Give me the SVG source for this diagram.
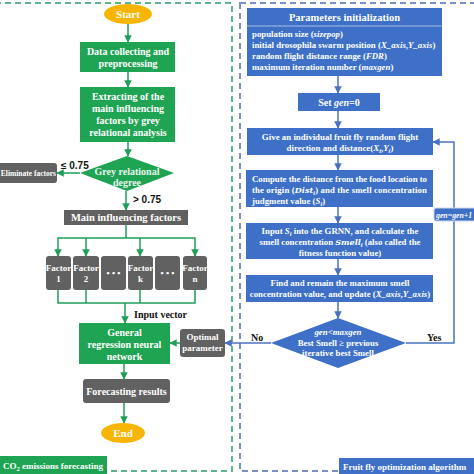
<svg xmlns="http://www.w3.org/2000/svg" width="474" height="474" viewBox="0 0 474 474" font-size="10">
<defs>
<style>
.t{font-family:"Liberation Serif","Times New Roman",serif;font-weight:bold;fill:#fff}
.k{font-family:"Liberation Serif","Times New Roman",serif;font-weight:bold;fill:#111}
.s{font-family:"Liberation Sans",Arial,sans-serif;font-weight:bold;fill:#111}
.g{fill:#1fa454}
.b{fill:#3d70c6}
.d{fill:#616161}
.o{fill:#f7b500}
.gl{stroke:#1f9e5a;stroke-width:1.5;fill:none}
.bl{stroke:#4a72c0;stroke-width:1.5;fill:none}
.i{font-style:italic}
</style>
<marker id="ag" viewBox="0 0 10 10" refX="9" refY="5" markerWidth="5" markerHeight="5" orient="auto"><path d="M0,0L10,5L0,10z" fill="#1f9e5a"/></marker>
<marker id="ab" viewBox="0 0 10 10" refX="9" refY="5" markerWidth="5" markerHeight="5" orient="auto"><path d="M0,0L10,5L0,10z" fill="#4a72c0"/></marker>
</defs>
<rect width="474" height="474" fill="#fff"/>
<rect x="-5" y="3" width="237" height="468" fill="none" stroke="#5db592" stroke-width="2" stroke-dasharray="6,4"/>
<rect x="240" y="3" width="240" height="468" fill="none" stroke="#7a90c4" stroke-width="2" stroke-dasharray="6,4"/>

<g id="connectors">
<line class="gl" x1="128" y1="24" x2="128" y2="42" marker-end="url(#ag)"/>
<line class="gl" x1="128" y1="72" x2="128" y2="87" marker-end="url(#ag)"/>
<line class="gl" x1="128" y1="142" x2="128" y2="156" marker-end="url(#ag)"/>
<line class="gl" x1="80" y1="173" x2="57" y2="173" marker-end="url(#ag)"/>
<line class="gl" x1="126" y1="191" x2="126" y2="210" marker-end="url(#ag)"/>
<polyline class="gl" points="126,225 126,238"/>
<polyline class="gl" points="58,256 58,238 195,238 195,256"/>
<line class="gl" x1="86" y1="238" x2="86" y2="256" marker-end="url(#ag)"/>
<line class="gl" x1="140" y1="238" x2="140" y2="256" marker-end="url(#ag)"/>
<line class="gl" x1="58" y1="250" x2="58" y2="256" marker-end="url(#ag)"/>
<line class="gl" x1="195" y1="250" x2="195" y2="256" marker-end="url(#ag)"/>
<polyline class="gl" points="58,290 58,303 195,303 195,290"/>
<line class="gl" x1="86" y1="290" x2="86" y2="303"/>
<line class="gl" x1="140" y1="290" x2="140" y2="303"/>
<line class="gl" x1="125" y1="303" x2="125" y2="323" marker-end="url(#ag)"/>
<line class="gl" x1="180" y1="343" x2="170" y2="343" marker-end="url(#ag)"/>
<line class="gl" x1="124" y1="364" x2="124" y2="379" marker-end="url(#ag)"/>
<line class="gl" x1="124" y1="403" x2="124" y2="423" marker-end="url(#ag)"/>
<line class="bl" x1="271" y1="343" x2="225" y2="343" marker-end="url(#ab)"/>
<line class="bl" x1="338" y1="76" x2="338" y2="93" marker-end="url(#ab)"/>
<line class="bl" x1="338" y1="111" x2="338" y2="128" marker-end="url(#ab)"/>
<line class="bl" x1="338" y1="155" x2="338" y2="170" marker-end="url(#ab)"/>
<line class="bl" x1="338" y1="207" x2="338" y2="223" marker-end="url(#ab)"/>
<line class="bl" x1="338" y1="259" x2="338" y2="275" marker-end="url(#ab)"/>
<line class="bl" x1="338" y1="302" x2="338" y2="318" marker-end="url(#ab)"/>
<polyline class="bl" points="406,343 454,343 454,142 433,142" marker-end="url(#ab)"/>
</g>

<g id="start"><ellipse class="o" cx="128" cy="14" rx="24" ry="10"/><text class="t" x="128" y="18" text-anchor="middle" font-size="11">Start</text></g>
<g id="data"><rect class="g" x="80" y="42" width="95" height="30"/>
<text class="t" text-anchor="middle"><tspan x="128" y="55">Data collecting and</tspan><tspan x="128" y="67">preprocessing</tspan></text></g>
<g id="extract"><rect class="g" x="80" y="87" width="95" height="55"/>
<text class="t" text-anchor="middle"><tspan x="128" y="100">Extracting of the</tspan><tspan x="128" y="112">main influencing</tspan><tspan x="128" y="124">factors by grey</tspan><tspan x="128" y="136">relational analysis</tspan></text></g>
<g id="grey"><polygon class="g" points="127,156 174,173 127,191 80,173"/>
<text class="t" text-anchor="middle" style="fill:#e8f5ec"><tspan x="127" y="175">Grey relational</tspan><tspan x="127" y="186">degree</tspan></text></g>
<g id="elim"><rect class="d" x="-30" y="163" width="87" height="20" rx="3"/><text class="t" x="56" y="175.5" text-anchor="end" font-size="7.5">Eliminate factors</text></g>
<text class="s" x="61" y="169">≤ 0.75</text>
<text class="s" x="133" y="203">&gt; 0.75</text>
<g id="main"><rect class="d" x="64" y="210" width="124" height="15"/><text class="t" x="126" y="221" text-anchor="middle" font-size="10.5">Main influencing factors</text></g>
<g id="f1"><rect class="d" x="46" y="256" width="25" height="34" rx="3"/><text class="t" text-anchor="middle" font-size="9"><tspan x="58.5" y="271">Factor</tspan><tspan x="58.5" y="282">1</tspan></text></g>
<g id="f2"><rect class="d" x="73" y="256" width="26" height="34" rx="3"/><text class="t" text-anchor="middle" font-size="9"><tspan x="86" y="271">Factor</tspan><tspan x="86" y="282">2</tspan></text></g>
<g id="e1"><rect class="d" x="101" y="256" width="25" height="34" rx="3"/><text class="t" x="113.5" y="276" text-anchor="middle" font-size="9">• • •</text></g>
<g id="fk"><rect class="d" x="128" y="256" width="25" height="34" rx="3"/><text class="t" text-anchor="middle" font-size="9"><tspan x="140.5" y="271">Factor</tspan><tspan x="140.5" y="282">k</tspan></text></g>
<g id="e2"><rect class="d" x="155" y="256" width="25" height="34" rx="3"/><text class="t" x="167.5" y="276" text-anchor="middle" font-size="9">• • •</text></g>
<g id="fn"><rect class="d" x="183" y="256" width="24" height="34" rx="3"/><text class="t" text-anchor="middle" font-size="9"><tspan x="195" y="271">Factor</tspan><tspan x="195" y="282">n</tspan></text></g>
<text class="k" x="134" y="318">Input vector</text>
<g id="grnn"><rect class="g" x="79" y="323" width="91" height="41"/>
<text class="t" text-anchor="middle"><tspan x="124.5" y="336">General</tspan><tspan x="124.5" y="348">regression neural</tspan><tspan x="124.5" y="360">network</tspan></text></g>
<g id="opt"><rect class="d" x="180" y="329" width="45" height="28" rx="3"/>
<text class="t" text-anchor="middle" font-size="9"><tspan x="202.5" y="340">Optimal</tspan><tspan x="202.5" y="351">parameter</tspan></text></g>
<g id="fres"><rect class="d" x="83" y="379" width="87" height="24" rx="3"/><text class="t" x="126.5" y="394.5" text-anchor="middle">Forecasting results</text></g>
<g id="end"><ellipse class="o" cx="123" cy="433" rx="22" ry="10"/><text class="t" x="123" y="437" text-anchor="middle" font-size="11">End</text></g>
<g id="lab1"><rect class="g" x="-10" y="456" width="117" height="20"/><text class="t" x="3" y="468.5" font-size="9">CO<tspan font-size="6.5" dy="2">2</tspan><tspan dy="-2"> emissions forecasting</tspan></text></g>

<g id="params"><rect class="b" x="247" y="8" width="195" height="68"/><line x1="247" y1="26" x2="442" y2="26" stroke="#a9bfe6" stroke-width="1"/>
<text class="t" x="344.5" y="21" text-anchor="middle" font-size="10.5">Parameters initialization</text>
<text class="t" font-size="8.8"><tspan x="252" y="37">population size (<tspan class="i">sizepop</tspan>)</tspan><tspan x="252" y="48">initial drosophila swarm position (<tspan class="i">X_axis</tspan>,<tspan class="i">Y_axis</tspan>)</tspan><tspan x="252" y="59">random flight distance range (<tspan class="i">FDR</tspan>)</tspan><tspan x="252" y="70">maximum iteration number (<tspan class="i">maxgen</tspan>)</tspan></text></g>
<g id="set"><rect class="b" x="298" y="93" width="82" height="18"/><text class="t" x="339" y="105.5" text-anchor="middle">Set <tspan class="i">gen</tspan>=0</text></g>
<g id="give"><rect class="b" x="247" y="128" width="186" height="27"/>
<text class="t" text-anchor="middle" font-size="8.9"><tspan x="340" y="140">Give an individual fruit fly random flight</tspan><tspan x="340" y="151">direction and distance(<tspan class="i">X</tspan><tspan class="i" font-size="6.5" dy="1.5">i</tspan><tspan dy="-1.5">,</tspan><tspan class="i">Y</tspan><tspan class="i" font-size="6.5" dy="1.5">i</tspan><tspan dy="-1.5">)</tspan></tspan></text></g>
<g id="comp"><rect class="b" x="246" y="170" width="187" height="37"/>
<text class="t" font-size="8.8" x="252" y="182" textLength="175" lengthAdjust="spacing">Compute the distance from the food location to</text>
<text class="t" font-size="8.8" x="252" y="193" textLength="175" lengthAdjust="spacing">the origin (<tspan class="i" style="font-family:'DejaVu Serif',serif" font-size="8">Dist</tspan><tspan class="i" font-size="6.5" dy="1.5">i</tspan><tspan dy="-1.5">) and the smell concentration</tspan></text>
<text class="t" font-size="8.8" x="252" y="204">judgment value (<tspan class="i">S</tspan><tspan class="i" font-size="6.5" dy="1.5">i</tspan><tspan dy="-1.5">)</tspan></text></g>
<g id="inp"><rect class="b" x="246" y="223" width="187" height="36"/>
<text class="t" text-anchor="middle" font-size="8.8"><tspan x="340" y="234">Input <tspan class="i">S</tspan><tspan class="i" font-size="6.5" dy="1.5">i</tspan><tspan dy="-1.5"> into the GRNN, and calculate the</tspan></tspan><tspan x="340" y="245">smell concentration <tspan class="i" style="font-family:'DejaVu Serif',serif" font-size="8">Smell</tspan><tspan class="i" font-size="6.5" dy="1.5">i</tspan><tspan dy="-1.5"> (also called the</tspan></tspan><tspan x="340" y="256">fitness function value)</tspan></text></g>
<g id="find"><rect class="b" x="246" y="275" width="187" height="27"/>
<text class="t" text-anchor="middle" font-size="8.8"><tspan x="340" y="286">Find and remain the maximum smell</tspan><tspan x="340" y="297">concentration value, and update (<tspan class="i">X_axis</tspan>,<tspan class="i">Y_axis</tspan>)</tspan></text></g>
<g id="cond"><polygon class="b" points="338,318 406,343 338,368 271,343"/>
<text class="t" text-anchor="middle" font-size="8.8"><tspan class="i" x="338" y="335">gen&lt;maxgen</tspan><tspan x="338" y="346">Best Smell ≥ previous</tspan><tspan x="338" y="356">iterative best Smell</tspan></text></g>
<g id="inc"><rect class="b" x="434" y="208" width="45" height="13" stroke="#c9d6ef" stroke-width="1" rx="2"/><text class="t i" x="436" y="217.5" font-size="7.8">gen=gen+1</text></g>
<text class="k" x="427" y="341">Yes</text>
<text class="k" x="251" y="341">No</text>
<g id="lab2"><rect class="b" x="339" y="458" width="140" height="18"/><text class="t" x="343" y="469.5" font-size="9">Fruit fly optimization algorithm</text></g>
</svg>
